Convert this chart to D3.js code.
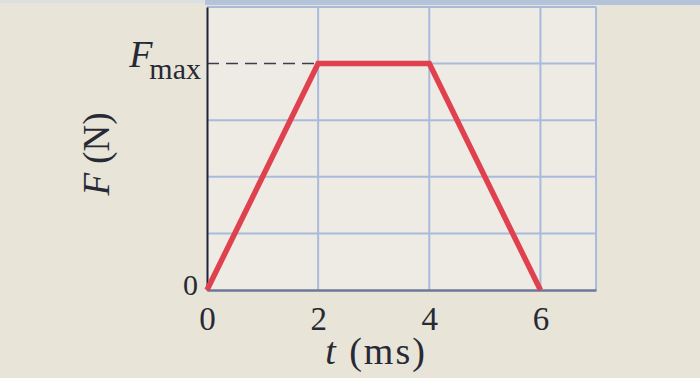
<!DOCTYPE html>
<html>
<head>
<meta charset="utf-8">
<script src="https://cdn.jsdelivr.net/npm/d3@7"></script>
<style>
  body { margin: 0; background: #e8e4d7; }
  svg { display: block; }
  .tick text { font-family: "Liberation Serif", "DejaVu Serif", serif; fill: #262a35; }
</style>
</head>
<body>
<script>
// force pulse, F vs t
var timeMs = [0, 2, 4, 6];
var force = [0, 4, 4, 0];        // in grid units, 4 = Fmax
var xTicks = [0, 2, 4, 6];
var xGrid = [0, 2, 4, 6, 7];
var yGrid = [1, 2, 3, 4, 5];
var yTicks = [0, 4];
var yTickLabels = ["0", "F"];

var width = 700, height = 378;
var margin = {top: 7, right: 104, bottom: 88, left: 207};

var svg = d3.select("body").append("svg")
  .attr("width", width)
  .attr("height", height);

// strip along the top of the photo
svg.append("rect")
  .attr("x", 0).attr("y", 0).attr("width", width).attr("height", 3)
  .attr("fill", "#dcdfe2");
svg.append("rect")
  .attr("x", 205).attr("y", 0).attr("width", width - 205).attr("height", 5)
  .attr("fill", "#b4c3d9");

var x = d3.scaleLinear()
  .domain([0, 7])
  .range([margin.left, width - margin.right]);

var y = d3.scaleLinear()
  .domain([0, 5])
  .range([height - margin.bottom, margin.top]);

svg.append("rect")
  .attr("x", x(0)).attr("y", y(5))
  .attr("width", x(7) - x(0)).attr("height", y(0) - y(5))
  .attr("fill", "#eeebe4");

// grid
svg.append("g").selectAll("line")
  .data(xGrid.filter(function(d) { return d > 0; }))
  .join("line")
  .attr("x1", function(d) { return x(d); })
  .attr("x2", function(d) { return x(d); })
  .attr("y1", y(0)).attr("y2", y(5))
  .attr("stroke", "#a8bbdc").attr("stroke-width", 2);

svg.append("g").selectAll("line")
  .data(yGrid)
  .join("line")
  .attr("x1", function(d) { return d == 4 ? x(2) : x(0); })
  .attr("x2", x(7))
  .attr("y1", function(d) { return y(d); })
  .attr("y2", function(d) { return y(d); })
  .attr("stroke", "#a8bbdc").attr("stroke-width", 2);

// dashed guide to Fmax
svg.append("line")
  .attr("x1", x(0)).attr("x2", x(2))
  .attr("y1", y(4)).attr("y2", y(4))
  .attr("stroke", "#3a3f4c").attr("stroke-width", 1.5)
  .attr("stroke-dasharray", "12,7");

// axes
var xAxis = d3.axisBottom(x)
  .tickValues(xTicks)
  .tickSize(0)
  .tickPadding(17)
  .tickFormat(d3.format("d"));

var gx = svg.append("g")
  .attr("transform", "translate(0," + y(0) + ")")
  .call(xAxis);
gx.select(".domain").attr("stroke", "#6c7897").attr("stroke-width", 2.5);
gx.selectAll(".tick text").attr("font-size", 33);

var yAxis = d3.axisLeft(y)
  .tickValues(yTicks)
  .tickSize(0)
  .tickPadding(8)
  .tickFormat(function(d, i) { return yTickLabels[i]; });

var gy = svg.append("g")
  .attr("transform", "translate(" + x(0) + ",0)")
  .call(yAxis);
gy.select(".domain").attr("stroke", "#1d2438").attr("stroke-width", 2);
gy.selectAll(".tick text").attr("font-size", 30);
gy.selectAll(".tick").filter(function(d) { return d == 0; })
  .select("text").attr("dy", "0.15em").attr("x", -9);
gy.selectAll(".tick").filter(function(d) { return d == 4; })
  .select("text")
  .attr("dy", "0.1em")
  .attr("x", -6)
  .text(null)
  .call(function(t) {
    t.append("tspan").attr("font-style", "italic").attr("font-size", 38).text("F");
    t.append("tspan").attr("font-size", 30).attr("dy", "0.4em").attr("dx", "-0.1em").text("max");
  });

// force curve
var line = d3.line()
  .x(function(d, i) { return x(timeMs[i]); })
  .y(function(d) { return y(d); });

svg.append("path")
  .datum(force)
  .attr("d", line)
  .attr("fill", "none")
  .attr("stroke", "#e0414f")
  .attr("stroke-width", 5.5)
  .attr("stroke-linejoin", "miter");

// axis titles
var xTitle = svg.append("text")
  .attr("x", 376).attr("y", 364)
  .attr("text-anchor", "middle")
  .attr("font-family", "Liberation Serif, DejaVu Serif, serif")
  .attr("font-size", 38)
  .attr("letter-spacing", 2)
  .attr("fill", "#262a35");
xTitle.append("tspan").attr("font-style", "italic").text("t");
xTitle.append("tspan").text(" (ms)");

var yTitle = svg.append("text")
  .attr("transform", "translate(109,154) rotate(-90)")
  .attr("text-anchor", "middle")
  .attr("font-family", "Liberation Serif, DejaVu Serif, serif")
  .attr("font-size", 37)
  .attr("fill", "#262a35");
yTitle.append("tspan").attr("font-style", "italic").text("F");
yTitle.append("tspan").text(" (N)");
</script>
</body>
</html>
